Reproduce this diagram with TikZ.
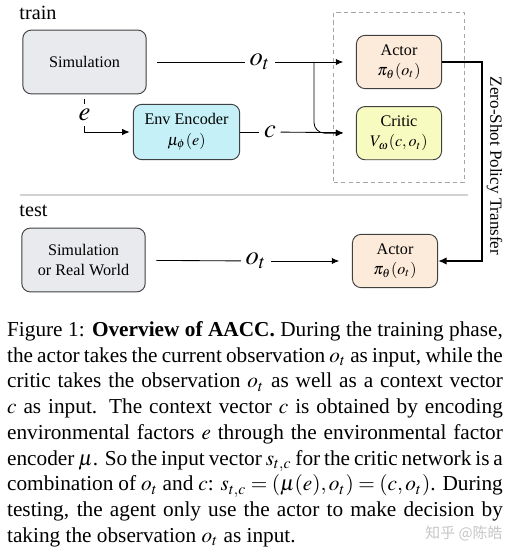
\documentclass[tikz,border=0pt]{standalone}
\usepackage{mathptmx}
\usepackage{fontspec}
\setmainfont{Liberation Serif}
\newfontfamily\cjkfont{Noto Sans CJK SC}
\usepackage{xcolor}
\usepackage{tikz}
\usetikzlibrary{arrows.meta, positioning, fit, backgrounds}
\definecolor{SimGray}{HTML}{E8EAED}
\definecolor{EncCyan}{HTML}{C5F0F8}
\definecolor{ActPeach}{HTML}{FCEBDB}
\definecolor{CritYellow}{HTML}{F8FBBF}
\definecolor{EdgeGray}{HTML}{404040}
\definecolor{RuleGray}{HTML}{D2D2D2}

\begin{document}
\begin{tikzpicture}[x=0.47pt, y=-0.47pt,
  block/.style={rectangle, rounded corners=4pt, draw=EdgeGray, line width=0.45pt,
    font=\fontsize{7.6}{9.5}\selectfont, align=center, inner sep=1pt},
  simbox/.style={block, fill=SimGray, minimum width=58pt, minimum height=30pt},
  netbox/.style={block, minimum width=40pt, minimum height=25pt},
  sig/.style={font=\fontsize{12.5}{14}\selectfont, inner sep=2pt},
  phase/.style={font=\fontsize{9.5}{11}\selectfont, anchor=base west, inner sep=0pt},
  caption/.style={anchor=north, text width=233pt, align=justify,
    font=\fontsize{10}{12.1}\selectfont, inner sep=0pt},
  wire/.style={line width=0.4pt},
  arrow/.style={wire, -{Latex[length=3.5pt,width=3pt]}},
  transfer/.style={-{Latex[length=4pt,width=3.5pt]}, line width=1.3pt},
  node distance=8pt
]
\useasboundingbox (0,0) rectangle (528,552);

%% Train phase
\node[phase] (trainlbl) at (19,20) {train};
\node[simbox] (sim) at (84.5,62) {Simulation};
\node[block, fill=EncCyan, minimum width=50pt, minimum height=26pt] (enc) at (186.5,132) {Env Encoder\\$\mu_\phi(e)$};
\node[netbox, fill=ActPeach] (actor) at (399,62) {Actor\\$\pi_\theta(o_t)$};
\node[netbox, fill=CritYellow, below=of actor] (critic) {Critic\\$V_\omega(c,o_t)$};

%% Signal labels
\node[sig] (ot)   at (260,62)   {$o_t$};
\node[sig] (clbl) at (270,132)  {$c$};
\node[sig] (elbl) at (84.5,115) {$e$};
\coordinate (split) at (314,62);

%% Dashed frame round actor and critic
\begin{scope}[on background layer]
  \node[draw=gray!70, line width=0.4pt, dash pattern=on 2pt off 1.5pt, fit=(actor)(critic), inner sep=10.5pt] (trainbox) {};
\end{scope}

%% Train arrows
\draw[wire, shorten <=5pt] (sim) -- (ot);
\draw[arrow, shorten >=6pt] (ot) -- (actor);
\draw[arrow, rounded corners=5pt, shorten >=6pt] (split) |- (critic);
\draw[wire, shorten <=2pt] (sim) -- (elbl);
\draw[arrow, shorten >=1.5pt] (elbl) |- (enc);
\draw[wire] (enc) -- (clbl);
\draw[arrow, shorten >=6pt] (clbl) -- (critic);

%% Separator
\draw[RuleGray, line width=0.6pt] (20,195) -- (468,195);

%% Test phase
\node[phase] (testlbl) at (19,216) {test};
\node[simbox] (testsim) at (83.5,260) {Simulation\\or Real World};
\node[netbox, fill=ActPeach] (testactor) at (395,261) {Actor\\$\pi_\theta(o_t)$};
\node[sig] (testot) at (256,261) {$o_t$};
\draw[wire, shorten <=5pt] (testsim) -- (testot);
\draw[arrow, shorten >=6pt] (testot) -- (testactor);

%% Policy transfer
\coordinate (xfer) at (482,166);
\draw[transfer] (actor) -| (xfer) |- (testactor);
\node[rotate=-90, anchor=south, font=\fontsize{8}{9}\selectfont, inner sep=2pt] (xferlbl) at (xfer) {Zero-Shot Policy Transfer};

%% Caption
\node[caption] (cap) at (255,321) {Figure 1: \textbf{Overview of AACC.} During the training phase, the actor takes the current observation $o_t$ as input, while the critic takes the observation $o_t$ as well as a context vector $c$ as input. The context vector $c$ is obtained by encoding environmental factors $e$ through the environmental factor encoder $\mu$. So the input vector $s_{t,c}$ for the critic network is a combination of $o_t$ and $c$: $s_{t,c}=(\mu(e),o_t)=(c,o_t)$. During testing, the agent only use the actor to make decision by taking the observation $o_t$ as input.};
\node[font=\cjkfont\fontsize{7}{8}\selectfont, text=gray!45, anchor=base east] (mark) at (510,538) {知乎 @陈皓};

\end{tikzpicture}
\end{document}
